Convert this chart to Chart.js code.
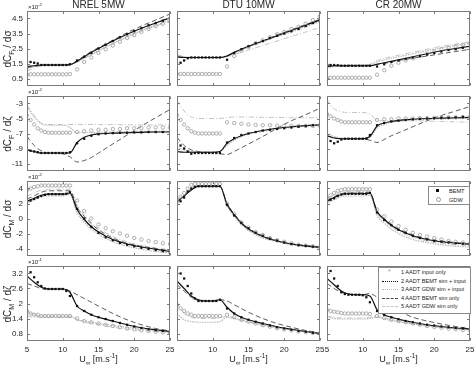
<!DOCTYPE html>
<html>
<head>
<meta charset="utf-8">
<script src="https://cdn.jsdelivr.net/npm/chart.js@4.4.1/dist/chart.umd.min.js"></script>
<style>
  body { margin: 0; background: #fff; font-family: "Liberation Sans", Arial, sans-serif; color: #262626; }
  #wrap { position: relative; width: 474px; height: 366px; overflow: hidden; }
  #wrap canvas { position: absolute; }
  .txt { position: absolute; white-space: nowrap; }
  .ttl { font-size: 10px; text-align: center; }
  .exp { font-size: 6px; }
  .exp sup, .xl sup { font-size: 70%; }
  .yl { font-size: 10px; transform: translate(-50%, -50%) rotate(-90deg); }
  .yl sub, .xl sub { font-size: 70%; }
  .xl { font-size: 9px; transform: translateX(-50%); }
  .leg { position: absolute; background: #fff; border: 1px solid #8a8a8a; font-size: 5.6px; white-space: nowrap; }
  .leg div { height: 8.6px; line-height: 8.6px; position: relative; }
  .smp { position: absolute; left: 3px; top: 4px; width: 16px; }
  .leg .lbl { position: absolute; left: 22px; top: 0; white-space: nowrap; }
</style>
</head>
<body>
<div id="wrap"></div>
<script>
// wind speeds
const windPts = [5, 5.5, 6, 6.5, 7, 7.5, 8, 8.5, 9, 9.5, 10, 10.5, 11, 12, 13, 14, 15, 16, 17, 18, 19, 20, 21, 22, 23, 24, 25];
const windLine = [5, 6, 7, 8, 9, 10, 11, 12, 13, 14, 15, 17, 19, 21, 23, 25];
const turbines = ['NREL 5MW', 'DTU 10MW', 'CR 20MW'];
const xTicks = [5, 10, 15, 20, 25];
const fSigTicks = [0.5, 1.5, 2.5, 3.5, 4.5];
const fZetaTicks = [-11, -9, -7, -5, -3];
const mSigTicks = [-4, -2, 0, 2, 4];
const mZetaTicks = [0.8, 1.4, 2, 2.6, 3.2];

// dCF / dsigma  (x10^-2)
const nrelFsBemt = [1.62, 1.6, 1.55, 1.5, 1.4, 1.4, 1.4, 1.4, 1.4, 1.4, 1.4, 1.4, 1.45, 1.7, 1.95, 2.2, 2.5, 2.75, 3.0, 3.25, 3.45, 3.65, 3.85, 4.05, 4.2, 4.35, 4.5];
const nrelFsGdw = [0.75, 0.78, 0.78, 0.78, 0.78, 0.78, 0.78, 0.78, 0.78, 0.78, 0.78, 0.78, 0.8, 1.1, 1.6, 1.9, 2.2, 2.45, 2.7, 2.95, 3.2, 3.4, 3.6, 3.8, 4.0, 4.15, 4.3];
const nrelFsL2 = [1.3, 1.35, 1.4, 1.4, 1.4, 1.4, 1.42, 1.65, 1.95, 2.25, 2.5, 3.0, 3.45, 3.85, 4.2, 4.55];
const nrelFsL3 = [1.15, 1.3, 1.38, 1.4, 1.4, 1.4, 1.42, 1.6, 1.85, 2.1, 2.35, 2.85, 3.3, 3.7, 4.05, 4.4];
const nrelFsL4 = [1.2, 1.3, 1.38, 1.4, 1.4, 1.4, 1.42, 1.7, 2.0, 2.3, 2.55, 3.05, 3.55, 4.0, 4.4, 4.8];
const nrelFsL5 = [1.0, 1.2, 1.35, 1.4, 1.4, 1.4, 1.42, 1.6, 1.85, 2.1, 2.35, 2.8, 3.25, 3.65, 4.0, 4.3];

const dtuFsBemt = [1.5, 1.55, 1.7, 1.85, 1.9, 1.9, 1.9, 1.9, 1.9, 1.9, 1.9, 1.9, 1.9, 1.75, 2.2, 2.45, 2.65, 2.85, 3.0, 3.2, 3.35, 3.5, 3.65, 3.8, 4.0, 4.2, 4.4];
const dtuFsGdw = [0.8, 0.8, 0.8, 0.8, 0.8, 0.8, 0.8, 0.8, 0.8, 0.8, 0.8, 0.8, 0.8, 1.3, 2.0, 2.35, 2.6, 2.85, 3.05, 3.25, 3.45, 3.6, 3.8, 3.95, 4.15, 4.4, 4.65];
const dtuFsL2 = [1.95, 1.9, 1.9, 1.9, 1.9, 1.9, 1.9, 2.0, 2.25, 2.45, 2.65, 3.0, 3.35, 3.7, 4.05, 4.4];
const dtuFsL3 = [2.05, 1.95, 1.9, 1.9, 1.9, 1.9, 1.9, 2.0, 2.2, 2.4, 2.6, 2.95, 3.3, 3.6, 3.95, 4.3];
const dtuFsL4 = [1.95, 1.9, 1.9, 1.9, 1.9, 1.9, 1.9, 2.0, 2.25, 2.45, 2.65, 3.0, 3.4, 3.75, 4.1, 4.45];
const dtuFsL5 = [2.1, 1.95, 1.9, 1.9, 1.9, 1.9, 1.9, 1.95, 2.1, 2.25, 2.4, 2.7, 3.0, 3.3, 3.6, 3.9];

const crFsBemt = [1.3, 1.4, 1.4, 1.38, 1.35, 1.35, 1.35, 1.35, 1.35, 1.35, 1.35, 1.35, 1.35, 1.3, 1.45, 1.6, 1.7, 1.8, 1.9, 2.0, 2.1, 2.2, 2.3, 2.4, 2.45, 2.55, 2.6];
const crFsGdw = [0.55, 0.55, 0.55, 0.55, 0.55, 0.55, 0.55, 0.55, 0.55, 0.55, 0.55, 0.55, 0.55, 0.75, 1.05, 1.35, 1.55, 1.7, 1.85, 2.0, 2.15, 2.3, 2.45, 2.55, 2.65, 2.75, 2.85];
const crFsL2 = [1.3, 1.35, 1.35, 1.35, 1.35, 1.35, 1.35, 1.45, 1.55, 1.65, 1.75, 1.95, 2.15, 2.35, 2.5, 2.65];
const crFsL3 = [1.2, 1.3, 1.35, 1.35, 1.35, 1.35, 1.4, 1.6, 1.75, 1.85, 1.95, 2.15, 2.35, 2.55, 2.7, 2.85];
const crFsL4 = [1.3, 1.35, 1.35, 1.35, 1.35, 1.35, 1.35, 1.45, 1.5, 1.6, 1.7, 1.85, 2.0, 2.15, 2.3, 2.45];
const crFsL5 = [1.4, 1.4, 1.4, 1.4, 1.4, 1.4, 1.45, 1.7, 1.85, 1.95, 2.05, 2.25, 2.45, 2.65, 2.8, 2.95];

// dCF / dzeta  (x10^-2)
const nrelFzBemt = [-9.2, -9.3, -9.4, -9.5, -9.6, -9.6, -9.6, -9.6, -9.6, -9.6, -9.6, -9.6, -9.5, -8.3, -7.7, -7.3, -7.1, -7.0, -6.95, -6.9, -6.9, -6.85, -6.85, -6.8, -6.8, -6.8, -6.8];
const nrelFzGdw = [-4.6, -5.2, -5.8, -6.3, -6.6, -6.8, -6.9, -6.9, -6.9, -6.9, -6.9, -6.9, -6.9, -6.8, -6.7, -6.6, -6.5, -6.5, -6.4, -6.4, -6.3, -6.3, -6.3, -6.2, -6.2, -6.2, -6.2];
const nrelFzL2 = [-9.2, -9.4, -9.6, -9.6, -9.6, -9.6, -9.6, -8.2, -7.5, -7.2, -7.05, -6.95, -6.9, -6.85, -6.8, -6.8];
const nrelFzL3 = [-3.4, -4.8, -5.7, -5.9, -5.9, -5.9, -6.2, -6.9, -6.9, -6.9, -6.85, -6.8, -6.75, -6.7, -6.7, -6.7];
const nrelFzL4 = [-7.4, -8.6, -9.3, -9.6, -9.6, -9.7, -10.1, -10.8, -10.6, -10.2, -9.6, -8.4, -7.2, -6.0, -4.9, -3.8];
const nrelFzL5 = [-3.2, -4.6, -5.6, -5.8, -5.8, -5.8, -5.8, -5.8, -5.8, -5.8, -5.8, -5.8, -5.85, -5.85, -5.85, -5.85];

const dtuFzBemt = [-8.2, -8.6, -9.0, -9.4, -9.7, -9.6, -9.6, -9.6, -9.6, -9.6, -9.6, -9.6, -9.6, -8.2, -7.6, -7.2, -7.0, -6.8, -6.6, -6.5, -6.4, -6.3, -6.2, -6.1, -6.0, -5.9, -5.8];
const dtuFzGdw = [-4.6, -5.2, -5.8, -6.3, -6.7, -6.9, -7.0, -7.0, -7.0, -7.0, -7.0, -7.0, -7.0, -5.5, -5.6, -5.7, -5.8, -5.85, -5.9, -5.9, -5.95, -5.95, -6.0, -6.0, -6.0, -6.0, -6.0];
const dtuFzL2 = [-9.4, -9.5, -9.5, -9.5, -9.5, -9.5, -9.4, -8.3, -7.7, -7.3, -7.0, -6.6, -6.3, -6.1, -5.95, -5.85];
const dtuFzL3 = [-8.8, -9.2, -9.4, -9.5, -9.5, -9.5, -9.4, -8.6, -7.9, -7.4, -7.1, -6.7, -6.4, -6.2, -6.0, -5.9];
const dtuFzL4 = [-7.5, -8.6, -9.2, -9.4, -9.5, -9.5, -9.7, -9.8, -9.4, -8.9, -8.4, -7.4, -6.3, -5.3, -4.5, -3.6];
const dtuFzL5 = [-2.6, -4.0, -4.8, -5.0, -5.0, -5.0, -5.0, -4.9, -4.8, -4.8, -4.8, -4.85, -4.85, -4.9, -4.9, -4.9];

const crFzBemt = [-7.7, -8.0, -8.3, -8.1, -7.8, -7.7, -7.7, -7.7, -7.7, -7.7, -7.7, -7.7, -7.2, -5.9, -5.6, -5.4, -5.3, -5.2, -5.1, -5.05, -5.0, -4.95, -4.9, -4.9, -4.85, -4.8, -4.8];
const crFzGdw = [-4.4, -4.7, -5.0, -5.2, -5.4, -5.5, -5.5, -5.5, -5.5, -5.5, -5.5, -5.5, -5.5, -5.2, -5.1, -5.1, -5.0, -5.0, -5.0, -4.95, -4.95, -4.9, -4.9, -4.85, -4.85, -4.8, -4.8];
const crFzL2 = [-7.3, -7.6, -7.7, -7.7, -7.7, -7.7, -7.4, -6.0, -5.6, -5.4, -5.25, -5.1, -5.0, -4.95, -4.9, -4.85];
const crFzL3 = [-7.0, -7.4, -7.6, -7.7, -7.7, -7.7, -7.5, -6.3, -5.8, -5.5, -5.35, -5.2, -5.1, -5.05, -5.0, -4.95];
const crFzL4 = [-7.3, -7.6, -7.7, -7.7, -7.7, -7.7, -7.9, -8.2, -7.8, -7.3, -6.9, -6.1, -5.3, -4.6, -4.0, -3.4];
const crFzL5 = [-2.5, -3.7, -4.1, -4.2, -4.2, -4.2, -4.4, -5.2, -5.3, -5.3, -5.3, -5.3, -5.35, -5.4, -5.45, -5.5];

// dCM / dsigma  (x10^-2)
const nrelMsBemt = [2.2, 2.4, 2.6, 2.8, 3.0, 3.15, 3.25, 3.25, 3.25, 3.25, 3.25, 3.3, 3.5, 1.3, 0.0, -1.1, -1.9, -2.5, -2.9, -3.25, -3.5, -3.7, -3.9, -4.05, -4.2, -4.35, -4.5];
const nrelMsGdw = [3.8, 4.0, 4.2, 4.3, 4.4, 4.4, 4.4, 4.4, 4.4, 4.4, 4.4, 4.4, 4.4, 2.4, 1.0, 0.0, -0.8, -1.3, -1.7, -2.0, -2.3, -2.6, -2.8, -3.0, -3.15, -3.3, -3.4];
const nrelMsL2 = [2.3, 2.7, 3.1, 3.25, 3.25, 3.25, 3.4, 1.2, -0.1, -1.1, -1.8, -2.8, -3.4, -3.8, -4.1, -4.4];
const nrelMsL3 = [2.0, 2.5, 2.9, 3.0, 3.0, 3.0, 3.2, 0.8, -0.5, -1.4, -2.1, -3.1, -3.7, -4.1, -4.4, -4.6];
const nrelMsL4 = [2.6, 3.0, 3.5, 3.7, 3.7, 3.7, 3.7, 1.5, 0.3, -0.7, -1.5, -2.6, -3.3, -3.7, -4.0, -4.3];
const nrelMsL5 = [3.0, 3.4, 3.8, 3.9, 3.9, 3.9, 3.9, 1.8, 0.5, -0.5, -1.3, -2.4, -3.1, -3.6, -3.9, -4.2];

const dtuMsBemt = [2.0, 2.3, 2.8, 3.6, 4.0, 4.2, 4.3, 4.3, 4.3, 4.3, 4.3, 4.3, 4.3, 1.8, 0.4, -0.6, -1.3, -1.9, -2.3, -2.7, -2.95, -3.2, -3.4, -3.55, -3.65, -3.75, -3.85];
const dtuMsGdw = [2.5, 2.9, 3.4, 4.0, 4.5, 4.6, 4.6, 4.6, 4.6, 4.6, 4.6, 4.6, 4.6, 2.0, 0.6, -0.5, -1.2, -1.8, -2.2, -2.6, -2.9, -3.1, -3.3, -3.5, -3.6, -3.7, -3.8];
const dtuMsL2 = [2.2, 3.0, 3.8, 4.3, 4.3, 4.3, 4.3, 1.9, 0.5, -0.6, -1.4, -2.4, -3.0, -3.4, -3.65, -3.85];
const dtuMsL3 = [2.4, 3.1, 3.9, 4.3, 4.3, 4.3, 4.3, 1.7, 0.3, -0.8, -1.6, -2.6, -3.1, -3.5, -3.75, -3.9];
const dtuMsL4 = [2.3, 3.0, 3.8, 4.3, 4.3, 4.3, 4.3, 2.0, 0.6, -0.5, -1.3, -2.3, -2.9, -3.35, -3.6, -3.8];
const dtuMsL5 = [2.5, 3.2, 4.0, 4.4, 4.4, 4.4, 4.4, 1.8, 0.4, -0.7, -1.5, -2.5, -3.05, -3.45, -3.7, -3.85];

const crMsBemt = [2.3, 2.5, 2.7, 3.0, 3.2, 3.3, 3.3, 3.3, 3.3, 3.3, 3.3, 3.3, 3.4, 0.8, -0.2, -0.9, -1.5, -1.9, -2.3, -2.6, -2.8, -3.0, -3.1, -3.2, -3.3, -3.35, -3.4];
const crMsGdw = [2.8, 3.1, 3.4, 3.7, 3.8, 3.9, 3.9, 3.9, 3.9, 3.9, 3.9, 3.9, 3.9, 1.2, 0.3, -0.4, -1.0, -1.5, -1.9, -2.2, -2.4, -2.6, -2.8, -3.0, -3.1, -3.2, -3.3];
const crMsL2 = [2.3, 2.8, 3.2, 3.3, 3.3, 3.3, 3.4, 0.9, -0.1, -0.9, -1.5, -2.3, -2.8, -3.1, -3.3, -3.45];
const crMsL3 = [2.0, 2.5, 2.9, 3.0, 3.0, 3.0, 3.1, 0.4, -0.6, -1.4, -2.0, -2.8, -3.2, -3.5, -3.7, -3.8];
const crMsL4 = [2.4, 2.9, 3.3, 3.4, 3.4, 3.4, 3.4, 1.0, 0.0, -0.8, -1.4, -2.2, -2.7, -3.0, -3.2, -3.35];
const crMsL5 = [2.7, 3.1, 3.5, 3.6, 3.6, 3.6, 3.6, 0.7, -0.3, -1.1, -1.7, -2.5, -3.0, -3.3, -3.5, -3.6];

// dCM / dzeta  (x10^-1)
const nrelMzBemt = [3.45, 3.25, 3.05, 2.85, 2.7, 2.6, 2.58, 2.58, 2.58, 2.58, 2.58, 2.5, 2.3, 1.9, 1.7, 1.55, 1.45, 1.38, 1.3, 1.22, 1.15, 1.08, 1.02, 0.97, 0.93, 0.9, 0.87];
const nrelMzGdw = [1.7, 1.6, 1.55, 1.55, 1.5, 1.5, 1.5, 1.5, 1.5, 1.5, 1.5, 1.5, 1.5, 1.4, 1.3, 1.25, 1.2, 1.15, 1.1, 1.05, 1.0, 0.97, 0.93, 0.9, 0.87, 0.84, 0.82];
const nrelMzL2 = [3.1, 2.85, 2.65, 2.58, 2.58, 2.58, 2.45, 1.9, 1.7, 1.55, 1.45, 1.3, 1.15, 1.03, 0.95, 0.88];
const nrelMzL3 = [1.65, 1.55, 1.5, 1.5, 1.5, 1.5, 1.5, 1.35, 1.3, 1.25, 1.2, 1.12, 1.05, 0.98, 0.92, 0.87];
const nrelMzL4 = [2.8, 2.7, 2.6, 2.58, 2.58, 2.58, 2.5, 2.35, 2.2, 2.05, 1.9, 1.6, 1.35, 1.15, 1.0, 0.9];
const nrelMzL5 = [1.5, 1.45, 1.45, 1.45, 1.45, 1.45, 1.45, 1.35, 1.25, 1.2, 1.15, 1.05, 0.98, 0.92, 0.88, 0.85];

const dtuMzBemt = [3.4, 3.2, 3.0, 2.7, 2.4, 2.2, 2.1, 2.1, 2.1, 2.1, 2.1, 2.1, 2.15, 1.8, 1.6, 1.45, 1.35, 1.27, 1.2, 1.12, 1.05, 1.0, 0.95, 0.9, 0.87, 0.83, 0.8];
const dtuMzGdw = [1.95, 1.8, 1.7, 1.6, 1.55, 1.5, 1.5, 1.5, 1.5, 1.5, 1.5, 1.5, 1.5, 1.55, 1.45, 1.35, 1.28, 1.2, 1.13, 1.07, 1.01, 0.96, 0.92, 0.88, 0.85, 0.82, 0.8];
const dtuMzL2 = [2.9, 2.6, 2.3, 2.15, 2.1, 2.1, 2.15, 1.85, 1.6, 1.45, 1.35, 1.2, 1.07, 0.97, 0.88, 0.8];
const dtuMzL3 = [1.6, 1.35, 1.28, 1.25, 1.25, 1.25, 1.28, 1.45, 1.4, 1.32, 1.25, 1.13, 1.03, 0.95, 0.88, 0.82];
const dtuMzL4 = [2.75, 2.5, 2.25, 2.12, 2.1, 2.1, 2.15, 2.1, 1.95, 1.8, 1.65, 1.4, 1.2, 1.05, 0.92, 0.82];
const dtuMzL5 = [2.0, 1.6, 1.45, 1.4, 1.4, 1.4, 1.42, 1.5, 1.42, 1.35, 1.28, 1.15, 1.05, 0.96, 0.88, 0.82];

const crMzBemt = [3.5, 3.3, 3.0, 2.7, 2.45, 2.38, 2.35, 2.35, 2.35, 2.35, 2.33, 2.25, 2.05, 1.7, 1.55, 1.45, 1.37, 1.3, 1.25, 1.2, 1.15, 1.12, 1.08, 1.05, 1.02, 1.0, 0.98];
const crMzGdw = [1.75, 1.7, 1.67, 1.65, 1.62, 1.6, 1.6, 1.6, 1.6, 1.6, 1.6, 1.6, 1.58, 1.5, 1.42, 1.35, 1.3, 1.25, 1.2, 1.15, 1.1, 1.06, 1.03, 1.0, 0.97, 0.94, 0.92];
const crMzL2 = [3.0, 2.75, 2.5, 2.38, 2.35, 2.35, 2.3, 1.75, 1.55, 1.45, 1.37, 1.25, 1.15, 1.08, 1.02, 0.98];
const crMzL3 = [1.45, 1.4, 1.38, 1.38, 1.38, 1.38, 1.4, 1.45, 1.38, 1.32, 1.27, 1.18, 1.1, 1.04, 0.99, 0.95];
const crMzL4 = [2.8, 2.6, 2.45, 2.38, 2.35, 2.35, 2.4, 2.25, 2.05, 1.85, 1.7, 1.45, 1.3, 1.18, 1.08, 1.0];
const crMzL5 = [1.5, 1.45, 1.42, 1.42, 1.42, 1.42, 1.45, 1.5, 1.42, 1.36, 1.3, 1.2, 1.12, 1.05, 1.0, 0.96];

// rows of panels
const rows = [
  { ticks: fSigTicks, min: 0, max: 5, exp: '-2', label: 'dC<sub>F</sub> / dσ',
    sets: [[nrelFsBemt, nrelFsGdw, nrelFsL2, nrelFsL3, nrelFsL4, nrelFsL5],
           [dtuFsBemt, dtuFsGdw, dtuFsL2, dtuFsL3, dtuFsL4, dtuFsL5],
           [crFsBemt, crFsGdw, crFsL2, crFsL3, crFsL4, crFsL5]] },
  { ticks: fZetaTicks, min: -12, max: -2, exp: '-2', label: 'dC<sub>F</sub> / dζ',
    sets: [[nrelFzBemt, nrelFzGdw, nrelFzL2, nrelFzL3, nrelFzL4, nrelFzL5],
           [dtuFzBemt, dtuFzGdw, dtuFzL2, dtuFzL3, dtuFzL4, dtuFzL5],
           [crFzBemt, crFzGdw, crFzL2, crFzL3, crFzL4, crFzL5]] },
  { ticks: mSigTicks, min: -5, max: 5, exp: '-2', label: 'dC<sub>M</sub> / dσ',
    sets: [[nrelMsBemt, nrelMsGdw, nrelMsL2, nrelMsL3, nrelMsL4, nrelMsL5],
           [dtuMsBemt, dtuMsGdw, dtuMsL2, dtuMsL3, dtuMsL4, dtuMsL5],
           [crMsBemt, crMsGdw, crMsL2, crMsL3, crMsL4, crMsL5]] },
  { ticks: mZetaTicks, min: 0.5, max: 3.5, exp: '-1', label: 'dC<sub>M</sub> / dζ',
    sets: [[nrelMzBemt, nrelMzGdw, nrelMzL2, nrelMzL3, nrelMzL4, nrelMzL5],
           [dtuMzBemt, dtuMzGdw, dtuMzL2, dtuMzL3, dtuMzL4, dtuMzL5],
           [crMzBemt, crMzGdw, crMzL2, crMzL3, crMzL4, crMzL5]] }
];

// layout
const colLeft = [27, 177, 327];
const rowTop = [11, 96, 181, 266];
const PW = 143, PH = 75;
const PAD_L = 30, PAD_T = 6, PAD_R = 8, PAD_B = 14;
const INK = '#262626';
const tickFont = { family: '"Liberation Sans", Arial, sans-serif', size: 8 };

const styles = [
  { color: '#111', dash: [], width: 1.2 },         // 2 BEMT sim + input
  { color: '#b8b8b8', dash: [1.5, 1], width: 1.2 }, // 3 GDW sim + input
  { color: '#4a4a4a', dash: [5, 3], width: 0.9 },  // 4 BEMT sim only
  { color: '#c4c4c4', dash: [5, 2, 1, 2], width: 1 } // 5 GDW sim only
];

const frame = {
  id: 'frame',
  afterDraw(chart, args, opts) {
    const { ctx, chartArea: a, scales: { x, y } } = chart;
    const l = Math.round(a.left) + 0.5, r = Math.round(a.right) - 0.5;
    const t = Math.round(a.top) + 0.5, b = Math.round(a.bottom) - 0.5;
    ctx.save();
    ctx.strokeStyle = '#7a7a7a';
    ctx.lineWidth = 1;
    ctx.strokeRect(l, t, r - l, b - t);
    ctx.beginPath();
    xTicks.forEach(v => {
      const px = Math.round(x.getPixelForValue(v)) + 0.5;
      ctx.moveTo(px, b); ctx.lineTo(px, b - 2.5);
      ctx.moveTo(px, t); ctx.lineTo(px, t + 2.5);
    });
    opts.yt.forEach(v => {
      const py = Math.round(y.getPixelForValue(v)) + 0.5;
      ctx.moveTo(l, py); ctx.lineTo(l + 2.5, py);
      ctx.moveTo(r, py); ctx.lineTo(r - 2.5, py);
    });
    ctx.stroke();
    ctx.restore();
  }
};

const wrap = document.getElementById('wrap');

function pts(xs, ys) {
  return xs.map((x, i) => ({ x: x, y: ys[i] }));
}

rows.forEach((row, r) => {
  row.sets.forEach((set, c) => {
    const cv = document.createElement('canvas');
    cv.width = PW + PAD_L + PAD_R;
    cv.height = PH + PAD_T + PAD_B;
    cv.style.left = (colLeft[c] - PAD_L) + 'px';
    cv.style.top = (rowTop[r] - PAD_T) + 'px';
    wrap.appendChild(cv);

    const datasets = [
      { data: pts(windPts, set[0]), pointStyle: 'rect', pointRadius: 1.6, backgroundColor: '#111', borderColor: '#111', borderWidth: 0 },
      { data: pts(windPts, set[1]), pointStyle: 'circle', pointRadius: 1.7, backgroundColor: 'rgba(0,0,0,0)', borderColor: '#9a9a9a', borderWidth: 0.8 }
    ];
    styles.forEach((s, k) => {
      datasets.push({
        data: pts(windLine, set[k + 2]), showLine: true, pointRadius: 0,
        borderColor: s.color, borderDash: s.dash, borderWidth: s.width,
        cubicInterpolationMode: 'monotone'
      });
    });

    new Chart(cv, {
      type: 'scatter',
      data: { datasets: datasets },
      options: {
        responsive: false,
        animation: false,
        devicePixelRatio: 1,
        layout: { padding: { top: PAD_T, right: PAD_R, left: 0, bottom: 0 } },
        plugins: { legend: { display: false }, tooltip: { enabled: false }, frame: { yt: row.ticks } },
        scales: {
          x: {
            type: 'linear', min: 5, max: 25,
            grid: { display: false, drawTicks: false }, border: { display: false },
            ticks: {
              display: r === 3, font: tickFont, color: INK, padding: 4, maxRotation: 0,
              // middle column leaves out its first label (the left neighbour's 25 sits there)
              callback: v => (c === 1 && v === 5) ? '' : String(v)
            },
            afterBuildTicks: s => { s.ticks = xTicks.map(v => ({ value: v })); },
            afterFit: s => { s.height = PAD_B; s.paddingLeft = 0; s.paddingRight = 0; }
          },
          y: {
            type: 'linear', min: row.min, max: row.max,
            grid: { display: false, drawTicks: false }, border: { display: false },
            ticks: { display: c === 0, font: tickFont, color: INK, padding: 4, callback: v => String(v) },
            afterBuildTicks: s => { s.ticks = row.ticks.map(v => ({ value: v })); },
            afterFit: s => { s.width = PAD_L; s.paddingTop = 0; s.paddingBottom = 0; }
          }
        }
      },
      plugins: [frame]
    });
  });

  // row annotations
  const ex = document.createElement('div');
  ex.className = 'txt exp';
  ex.style.left = '28px';
  ex.style.top = (rowTop[r] - 9) + 'px';
  ex.innerHTML = '×10<sup>' + row.exp + '</sup>';
  wrap.appendChild(ex);

  const yl = document.createElement('div');
  yl.className = 'txt yl';
  yl.style.left = '8px';
  yl.style.top = (rowTop[r] + PH / 2) + 'px';
  yl.innerHTML = row.label;
  wrap.appendChild(yl);
});

turbines.forEach((name, c) => {
  const t = document.createElement('div');
  t.className = 'txt ttl';
  t.style.left = colLeft[c] + 'px';
  t.style.width = PW + 'px';
  t.style.top = '-1px';
  t.textContent = name;
  wrap.appendChild(t);

  const xl = document.createElement('div');
  xl.className = 'txt xl';
  xl.style.left = (colLeft[c] + PW / 2) + 'px';
  xl.style.top = '352px';
  xl.innerHTML = 'U<sub>∞</sub> [m.s<sup>-1</sup>]';
  wrap.appendChild(xl);
});

// legends
const leg1 = document.createElement('div');
leg1.className = 'leg';
leg1.style.cssText = 'left:428px;top:186px;width:40px;height:17px;';
leg1.innerHTML =
  '<div><span class="smp" style="top:2px;left:7px;width:3px;height:3px;background:#111"></span><span class="lbl" style="left:20px">BEMT</span></div>' +
  '<div><span class="smp" style="top:1.5px;left:6.5px;width:3px;height:3px;border:0.8px solid #9a9a9a;border-radius:50%"></span><span class="lbl" style="left:20px">GDW</span></div>';
wrap.appendChild(leg1);

const legNames = ['1 AADT  input only', '2 AADT  BEMT sim + input', '3 AADT  GDW sim + input', '4 AADT  BEMT sim only', '5 AADT  GDW sim only'];
const leg2 = document.createElement('div');
leg2.className = 'leg';
leg2.style.cssText = 'left:378px;top:267px;width:91px;height:45px;';
let html = '<div><span class="smp" style="left:9px;top:0;color:#9a9a9a;font-size:7px">*</span><span class="lbl">' + legNames[0] + '</span></div>';
styles.forEach((s, k) => {
  const bs = k < 2 ? 'dotted' : 'dashed';
  html += '<div><span class="smp" style="border-top:1.2px ' + bs + ' ' + s.color + '"></span><span class="lbl">' + legNames[k + 1] + '</span></div>';
});
leg2.innerHTML = html;
wrap.appendChild(leg2);
</script>
</body>
</html>
